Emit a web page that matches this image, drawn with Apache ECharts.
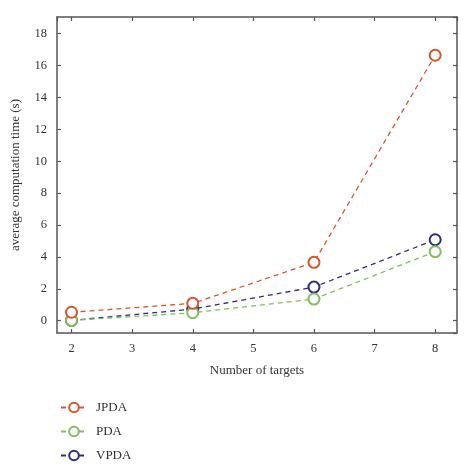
<!DOCTYPE html>
<html><head><meta charset="utf-8">
<script src="https://cdn.jsdelivr.net/npm/echarts@6/dist/echarts.min.js"></script>
<style>html,body{margin:0;padding:0;background:#fff}#c{width:474px;height:470px}</style>
</head><body><div id="c"></div>
<script>
const targets = [2, 4, 6, 8];
const jpda = [0.53, 1.09, 3.66, 16.65];
const pda  = [0.02, 0.50, 1.36, 4.33];
const vpda = [0.02, 0.73, 2.11, 5.08];
const seriesNames = ['JPDA', 'PDA', 'VPDA'];
const colors = ['#d9552d', '#7fbf5c', '#2f2a82'];

const font = 'Liberation Serif';
const axisColor = '#555';
function pairs(v){ return targets.map((t,i)=>[t, v[i]]); }
function intLabel(v){ return Math.abs(v - Math.round(v)) < 1e-6 ? String(Math.round(v)) : ''; }

const common = {
  axisLine:{show:true,onZero:false,lineStyle:{color:axisColor,width:1.5}},
  axisTick:{show:true,inside:true,length:4,lineStyle:{color:axisColor,width:1.2}},
  splitLine:{show:false}
};
const xBase = Object.assign({type:'value',min:1.76,max:8.36,splitNumber:6,minInterval:1,maxInterval:1}, common);
const yBase = Object.assign({type:'value',min:-0.77,max:19.05,splitNumber:10,minInterval:2,maxInterval:2}, common);

const chart = echarts.init(document.getElementById('c'));
chart.setOption({
  animation:false,
  backgroundColor:'#fff',
  grid:{left:57,right:17,top:17,bottom:137,show:false},
  legend:{
    orient:'vertical',left:55,top:396,itemWidth:26,itemHeight:12,itemGap:11,
    data:seriesNames,
    textStyle:{fontFamily:font,fontSize:13,color:'#333',padding:[0,0,0,4]}
  },
  xAxis:[
    Object.assign({}, xBase, {position:'bottom',
      name:'Number of targets',nameLocation:'middle',nameGap:31,
      nameTextStyle:{fontFamily:font,fontSize:13,color:'#333'},
      axisLabel:{formatter:intLabel,showMinLabel:false,showMaxLabel:false,margin:9,fontFamily:font,fontSize:12.5,color:'#333'}}),
    Object.assign({}, xBase, {position:'top',axisLabel:{show:false}})
  ],
  yAxis:[
    Object.assign({}, yBase, {position:'left',
      name:'average computation time (s)',nameLocation:'middle',nameGap:35,
      nameTextStyle:{fontFamily:font,fontSize:13,color:'#333'},
      axisLabel:{formatter:intLabel,showMinLabel:false,showMaxLabel:false,margin:10,fontFamily:font,fontSize:12.5,color:'#333'}}),
    Object.assign({}, yBase, {position:'right',axisLabel:{show:false}})
  ],
  series:[jpda,pda,vpda].map((v,i)=>({
    name:seriesNames[i],type:'line',data:pairs(v),
    symbol:'emptyCircle',symbolSize:11,
    itemStyle:{color:colors[i],borderWidth:1.4},
    lineStyle:{color:colors[i],width:1.3,type:[5,4]},
    z: 3 - i
  }))
});
</script></body></html>
